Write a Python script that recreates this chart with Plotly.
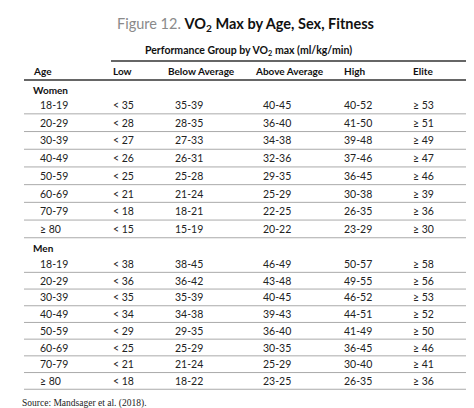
import plotly.graph_objects as go

columns = ["Age", "Low", "Below Average", "Above Average", "High", "Elite"]
age_groups = ["18-19", "20-29", "30-39", "40-49", "50-59", "60-69", "70-79", "≥ 80"]
women_low = ["< 35", "< 28", "< 27", "< 26", "< 25", "< 21", "< 18", "< 15"]
women_below = ["35-39", "28-35", "27-33", "26-31", "25-28", "21-24", "18-21", "15-19"]
women_above = ["40-45", "36-40", "34-38", "32-36", "29-35", "25-29", "22-25", "20-22"]
women_high = ["40-52", "41-50", "39-48", "37-46", "36-45", "30-38", "26-35", "23-29"]
women_elite = ["≥ 53", "≥ 51", "≥ 49", "≥ 47", "≥ 46", "≥ 39", "≥ 36", "≥ 30"]
men_low = ["< 38", "< 36", "< 35", "< 34", "< 29", "< 25", "< 21", "< 18"]
men_below = ["38-45", "36-42", "35-39", "34-38", "29-35", "25-29", "21-24", "18-22"]
men_above = ["46-49", "43-48", "40-45", "39-43", "36-40", "30-35", "25-29", "23-25"]
men_high = ["50-57", "49-55", "46-52", "44-51", "41-49", "36-45", "30-40", "26-35"]
men_elite = ["≥ 58", "≥ 56", "≥ 53", "≥ 52", "≥ 50", "≥ 46", "≥ 41", "≥ 36"]

FONT = "Lato"
fig = go.Figure()
ann = []
shapes = []
def txt(x, y, t, size=10, color="#222", xanchor="left", family=FONT):
    ann.append(dict(x=x, y=y, text=t, showarrow=False, xanchor=xanchor, yanchor="middle",
                    xref="x", yref="y", font=dict(family=family, size=size, color=color)))
def line(x0, x1, y, color="#aaa", w=1):
    shapes.append(dict(type="line", xref="x", yref="y", x0=x0, x1=x1, y0=y, y1=y,
                       line=dict(color=color, width=w)))

txt(237, 16, "<span style='color:#8a8a8a'>Figure 12.</span> <b>VO<sub>2</sub> Max by Age, Sex, Fitness</b>",
    size=14.5, color="#111", xanchor="center")
txt(240, 43, "<b>Performance Group by VO<sub>2</sub> max (ml/kg/min)</b>", size=10.5, color="#111", xanchor="center")
line(103, 460, 53, "#333", 1.5)
head_x = [23, 103, 158, 245, 334, 403]
for x, c in zip(head_x, columns):
    txt(x, 63, "<b>" + c + "</b>", size=10, color="#111")
line(16, 460, 72, "#333", 1.5)

val_x = [30, 103, 165, 253, 334, 403]
def block(label, ly, y0, dy, cols):
    txt(23, ly, "<b>" + label + "</b>", size=10, color="#111")
    for i, age in enumerate(age_groups):
        y = y0 + i * dy
        row = [age] + [c[i] for c in cols]
        for x, v in zip(val_x, row):
            txt(x, y, v, size=10.5)
        line(16, 460, y + dy / 2)

block("Women", 82, 97, 17.7, [women_low, women_below, women_above, women_high, women_elite])
block("Men", 240, 256, 16.7, [men_low, men_below, men_above, men_high, men_elite])
txt(12, 395, "Source: Mandsager et al. (2018).", size=9.5, color="#222", family="Liberation Serif")

fig.update_layout(width=474, height=408, margin=dict(l=0, r=0, t=0, b=0),
                  paper_bgcolor="white", plot_bgcolor="white",
                  xaxis=dict(range=[0, 474], visible=False, fixedrange=True),
                  yaxis=dict(range=[408, 0], visible=False, fixedrange=True),
                  annotations=ann, shapes=shapes, showlegend=False)
fig.write_html("out.html", config={"displayModeBar": False})
